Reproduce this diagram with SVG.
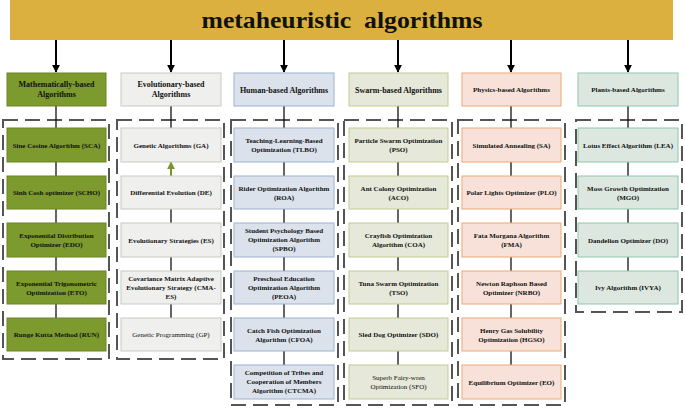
<svg xmlns="http://www.w3.org/2000/svg" width="685" height="410" viewBox="0 0 685 410">
<defs>
<marker id="ah" viewBox="0 0 10 10" refX="9" refY="5" markerWidth="4" markerHeight="4" orient="auto" markerUnits="strokeWidth"><path d="M0,0 L10,5 L0,10 z" fill="#000"/></marker>
<marker id="ahg" viewBox="0 0 10 10" refX="9" refY="5" markerWidth="4" markerHeight="4" orient="auto" markerUnits="strokeWidth"><path d="M0,0 L10,5 L0,10 z" fill="#7a952c"/></marker>
</defs>
<style>
text{font-family:"Liberation Serif","DejaVu Serif",serif;fill:#111;text-anchor:middle;font-weight:bold}
.t{font-size:7px}
.n{font-weight:normal}
.h{font-size:8px}
.hs{font-size:7px}
.dash{fill:#fff;stroke:#555;stroke-width:2;stroke-dasharray:15 7}
.ma{fill:#7c9a2e;stroke:#6a8526;stroke-width:1}
.ev{fill:#efefed;stroke:#c8cbc3;stroke-width:1}
.hu{fill:#dce2eb;stroke:#9cb2ce;stroke-width:1}
.sw{fill:#e6e8da;stroke:#c2cb94;stroke-width:1}
.ph{fill:#f7e1d8;stroke:#f0a774;stroke-width:1}
.pl{fill:#dce7e0;stroke:#92c6ac;stroke-width:1}
.ln{stroke:#111;stroke-width:1.3}
.ar{stroke:#000;stroke-width:2;marker-end:url(#ah)}
</style>
<rect x="0" y="0" width="685" height="410" fill="#fff"/>
<g id="title">
<rect x="10" y="0" width="663" height="40" fill="#dbb03f"/>
<text x="342" y="28" style="font-size:24px" textLength="281" lengthAdjust="spacingAndGlyphs">metaheuristic&#160; algorithms</text>
</g>
<g id="frames">
<rect class="dash" x="3" y="120" width="106" height="239"/>
<rect class="dash" x="117" y="120" width="107" height="239"/>
<rect class="dash" x="231" y="120" width="107" height="285"/>
<rect class="dash" x="344" y="120" width="108" height="285"/>
<rect class="dash" x="458" y="120" width="107" height="285"/>
<rect class="dash" x="576" y="120" width="106" height="192"/>
</g>
<g id="connectors">
<line class="ar" x1="56" y1="40" x2="56" y2="72"/>
<line class="ar" x1="171" y1="40" x2="171" y2="72"/>
<line class="ar" x1="284" y1="40" x2="284" y2="72"/>
<line class="ar" x1="398" y1="40" x2="398" y2="72"/>
<line class="ar" x1="511" y1="40" x2="511" y2="72"/>
<line class="ar" x1="628" y1="40" x2="628" y2="72"/>
<line class="ln" x1="56" y1="106" x2="56" y2="318"/>
<line class="ln" x1="171" y1="106" x2="171" y2="128"/>
<line class="ln" x1="171" y1="209" x2="171" y2="318"/>
<line x1="171" y1="176" x2="171" y2="162" stroke="#7a952c" stroke-width="2" marker-end="url(#ahg)"/>
<line class="ln" x1="284" y1="106" x2="284" y2="365"/>
<line class="ln" x1="398" y1="106" x2="398" y2="365"/>
<line class="ln" x1="511" y1="106" x2="511" y2="365"/>
<line class="ln" x1="628" y1="106" x2="628" y2="271"/>
</g>
<g id="math">
<g id="h-math"><rect class="ma" x="7" y="73" width="99" height="33"/><text class="h" x="56.5" y="87">Mathematically-based</text><text class="h" x="56.5" y="97">Algorithms</text></g>
<g id="sca"><rect class="ma" x="7" y="128" width="99" height="34"/><text class="t" x="56.5" y="147.5">Sine Cosine Algorithm (SCA)</text></g>
<g id="scho"><rect class="ma" x="7" y="176" width="99" height="33"/><text class="t" x="56.5" y="195">Sinh Cosh optimizer (SCHO)</text></g>
<g id="edo"><rect class="ma" x="7" y="223" width="99" height="34"/><text class="t" x="56.5" y="238">Exponential Distribution</text><text class="t" x="56.5" y="247">Optimizer (EDO)</text></g>
<g id="eto"><rect class="ma" x="7" y="271" width="99" height="33"/><text class="t" x="56.5" y="285.5">Exponential Trigonometric</text><text class="t" x="56.5" y="294.5">Optimization (ETO)</text></g>
<g id="run"><rect class="ma" x="7" y="318" width="99" height="33"/><text class="t" x="56.5" y="337">Runge Kutta Method (RUN)</text></g>
</g>
<g id="evol">
<g id="h-evol"><rect class="ev" x="121" y="73" width="100" height="33"/><text class="h" x="171" y="87">Evolutionary-based</text><text class="h" x="171" y="97">Algorithms</text></g>
<g id="ga"><rect class="ev" x="121" y="128" width="100" height="34"/><text class="t" x="171" y="147.5">Genetic Algorithms (GA)</text></g>
<g id="de"><rect class="ev" x="121" y="176" width="100" height="33"/><text class="t" x="171" y="195">Differential Evolution (DE)</text></g>
<g id="es"><rect class="ev" x="121" y="223" width="100" height="34"/><text class="t" x="171" y="242.5">Evolutionary Strategies (ES)</text></g>
<g id="cmaes"><rect class="ev" x="121" y="271" width="100" height="33"/><text class="t" x="171" y="281">Covariance Matrix Adaptive</text><text class="t" x="171" y="290">Evolutionary Strategy (CMA-</text><text class="t" x="171" y="299">ES)</text></g>
<g id="gp"><rect class="ev" x="121" y="318" width="100" height="33"/><text class="t n" x="171" y="337">Genetic Programming (GP)</text></g>
</g>
<g id="human">
<g id="h-human"><rect class="hu" x="234" y="73" width="100" height="33"/><text class="h" x="284" y="92.5">Human-based Algorithms</text></g>
<g id="tlbo"><rect class="hu" x="234" y="128" width="100" height="34"/><text class="t" x="284" y="142.5">Teaching-Learning-Based</text><text class="t" x="284" y="151.5">Optimization (TLBO)</text></g>
<g id="roa"><rect class="hu" x="234" y="176" width="100" height="33"/><text class="t" x="284" y="190.5">Rider Optimization Algorithm</text><text class="t" x="284" y="199.5">(ROA)</text></g>
<g id="spbo"><rect class="hu" x="234" y="223" width="100" height="34"/><text class="t" x="284" y="233">Student Psychology Based</text><text class="t" x="284" y="242">Optimization Algorithm</text><text class="t" x="284" y="251">(SPBO)</text></g>
<g id="peoa"><rect class="hu" x="234" y="271" width="100" height="33"/><text class="t" x="284" y="281">Preschool Education</text><text class="t" x="284" y="290">Optimization Algorithm</text><text class="t" x="284" y="299">(PEOA)</text></g>
<g id="cfoa"><rect class="hu" x="234" y="318" width="100" height="33"/><text class="t" x="284" y="332.5">Catch Fish Optimization</text><text class="t" x="284" y="341.5">Algorithm (CFOA)</text></g>
<g id="ctcma"><rect class="hu" x="234" y="365" width="100" height="34"/><text class="t" x="284" y="375">Competition of Tribes and</text><text class="t" x="284" y="384">Cooperation of Members</text><text class="t" x="284" y="393">Algorithm (CTCMA)</text></g>
</g>
<g id="swarm">
<g id="h-swarm"><rect class="sw" x="349" y="73" width="99" height="33"/><text class="h" x="398.5" y="92.5">Swarm-based Algorithms</text></g>
<g id="pso"><rect class="sw" x="349" y="128" width="99" height="34"/><text class="t" x="398.5" y="142.5">Particle Swarm Optimization</text><text class="t" x="398.5" y="151.5">(PSO)</text></g>
<g id="aco"><rect class="sw" x="349" y="176" width="99" height="33"/><text class="t" x="398.5" y="190.5">Ant Colony Optimization</text><text class="t" x="398.5" y="199.5">(ACO)</text></g>
<g id="coa"><rect class="sw" x="349" y="223" width="99" height="34"/><text class="t" x="398.5" y="238">Crayfish Optimization</text><text class="t" x="398.5" y="247">Algorithm (COA)</text></g>
<g id="tso"><rect class="sw" x="349" y="271" width="99" height="33"/><text class="t" x="398.5" y="285.5">Tuna Swarm Optimization</text><text class="t" x="398.5" y="294.5">(TSO)</text></g>
<g id="sdo"><rect class="sw" x="349" y="318" width="99" height="33"/><text class="t" x="398.5" y="337">Sled Dog Optimizer (SDO)</text></g>
<g id="sfo"><rect class="sw" x="349" y="365" width="99" height="34"/><text class="t n" x="398.5" y="379.5">Superb Fairy-wren</text><text class="t n" x="398.5" y="388.5">Optimization (SFO)</text></g>
</g>
<g id="physics">
<g id="h-physics"><rect class="ph" x="462" y="73" width="99" height="33"/><text class="hs" x="511.5" y="92">Physics-based Algorithms</text></g>
<g id="sa"><rect class="ph" x="462" y="128" width="99" height="34"/><text class="t" x="511.5" y="147.5">Simulated Annealing (SA)</text></g>
<g id="plo"><rect class="ph" x="462" y="176" width="99" height="33"/><text class="t" x="511.5" y="195">Polar Lights Optimizer (PLO)</text></g>
<g id="fma"><rect class="ph" x="462" y="223" width="99" height="34"/><text class="t" x="511.5" y="238">Fata Morgana Algorithm</text><text class="t" x="511.5" y="247">(FMA)</text></g>
<g id="nrbo"><rect class="ph" x="462" y="271" width="99" height="33"/><text class="t" x="511.5" y="285.5">Newton Raphson Based</text><text class="t" x="511.5" y="294.5">Optimizer (NRBO)</text></g>
<g id="hgso"><rect class="ph" x="462" y="318" width="99" height="33"/><text class="t" x="511.5" y="332.5">Henry Gas Solubility</text><text class="t" x="511.5" y="341.5">Optimization (HGSO)</text></g>
<g id="eo"><rect class="ph" x="462" y="365" width="99" height="34"/><text class="t" x="511.5" y="384.5">Equilibrium Optimizer (EO)</text></g>
</g>
<g id="plants">
<g id="h-plants"><rect class="pl" x="578" y="73" width="100" height="33"/><text class="hs" x="628" y="92">Plants-based Algorithms</text></g>
<g id="lea"><rect class="pl" x="578" y="128" width="100" height="34"/><text class="t" x="628" y="147.5">Lotus Effect Algorithm (LEA)</text></g>
<g id="mgo"><rect class="pl" x="578" y="176" width="100" height="33"/><text class="t" x="628" y="190.5">Moss Growth Optimization</text><text class="t" x="628" y="199.5">(MGO)</text></g>
<g id="do"><rect class="pl" x="578" y="223" width="100" height="34"/><text class="t" x="628" y="242.5">Dandelion Optimizer (DO)</text></g>
<g id="ivya"><rect class="pl" x="578" y="271" width="100" height="33"/><text class="t" x="628" y="290">Ivy Algorithm (IVYA)</text></g>
</g>
</svg>
